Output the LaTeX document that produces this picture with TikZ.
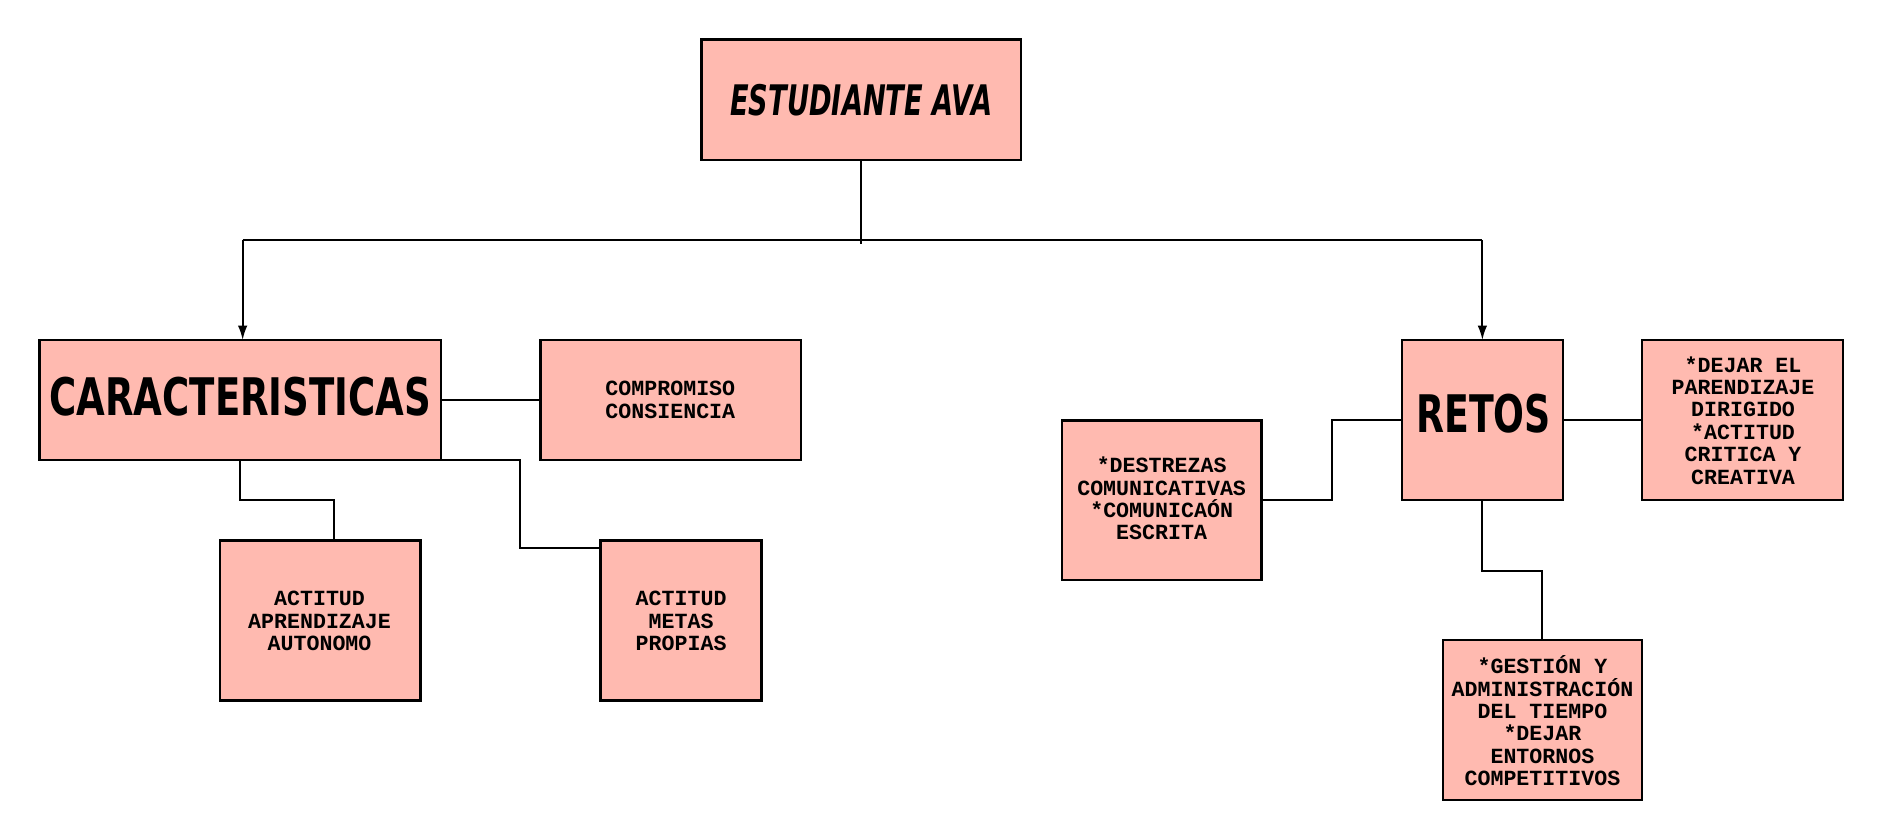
\documentclass[tikz,border=0pt]{standalone}
\usepackage{fontspec}
\usepackage{graphicx}
\setmonofont{Liberation Mono}
\newfontfamily\titlefont{DejaVu Sans}
\usetikzlibrary{arrows.meta}
\definecolor{boxfill}{HTML}{FFBAB0}
\tikzset{
  x=0.5pt,y=-0.5pt,
  box/.style={draw=black,line width=1pt,fill=boxfill,inner sep=0pt},
  txt/.style={align=center,font=\ttfamily\bfseries\fontsize{9}{9.3}\selectfont},
  conn/.style={draw=black,line width=0.8pt},
  arr/.style={conn,-{Latex[length=6pt,width=4pt]}}
}
\newcommand{\ttl}[2]{\resizebox{#1}{!}{\titlefont\bfseries #2}}
\begin{document}
\begin{tikzpicture}
\useasboundingbox (0,0) rectangle (1565,699);
\path[box] (584,33) rectangle (850,133);
\node (top) at (717,83) {\resizebox{109pt}{13pt}{\titlefont\bfseries\itshape ESTUDIANTE AVA}};
\path[box] (33,283) rectangle (367,383);
\node (car) at (200,330) {\resizebox{159pt}{16pt}{\titlefont\bfseries CARACTERISTICAS}};
\path[box] (450,283) rectangle (667,383);
\node[txt] (comp) at (558,333) {COMPROMISO\\CONSIENCIA};
\path[box] (183,450) rectangle (350,583);
\node[txt] (aut) at (266,517) {ACTITUD\\APRENDIZAJE\\AUTONOMO};
\path[box] (500,450) rectangle (634,583);
\node[txt] (met) at (567,517) {ACTITUD\\METAS\\PROPIAS};
\path[box] (1167,283) rectangle (1301,416);
\node (ret) at (1235,344) {\resizebox{56pt}{16pt}{\titlefont\bfseries RETOS}};
\path[box] (1367,283) rectangle (1534,416);
\node[txt] (dej) at (1451,350) {*DEJAR EL\\PARENDIZAJE\\DIRIGIDO\\*ACTITUD\\CRITICA Y\\CREATIVA};
\path[box] (884,350) rectangle (1050,483);
\node[txt] (des) at (967,415) {*DESTREZAS\\COMUNICATIVAS\\*COMUNICAÓN\\ESCRITA};
\path[box] (1201,533) rectangle (1367,666);
\node[txt] (ges) at (1284,600) {*GESTIÓN Y\\ADMINISTRACIÓN\\DEL TIEMPO\\*DEJAR\\ENTORNOS\\COMPETITIVOS};
\coordinate (tb) at (717,133);
\coordinate (hm) at (717,203);
\coordinate (hl) at (202,200);
\coordinate (hr) at (1234,200);
\draw[conn] (tb) -- (hm);
\draw[conn] (hl) -- (hr);
\draw[arr] (hl) -- (202,283);
\draw[arr] (hr) -- (1234,283);
\draw[conn] (367,333) -- (450,333);
\draw[conn] (200,383) |- (278,416) -- (278,450);
\draw[conn] (367,383) -- (433,383) |- (500,456);
\draw[conn] (1301,350) -- (1367,350);
\draw[conn] (1167,350) -- (1109,350) |- (1050,416);
\draw[conn] (1234,416) |- (1284,475) -- (1284,533);
\end{tikzpicture}
\end{document}
